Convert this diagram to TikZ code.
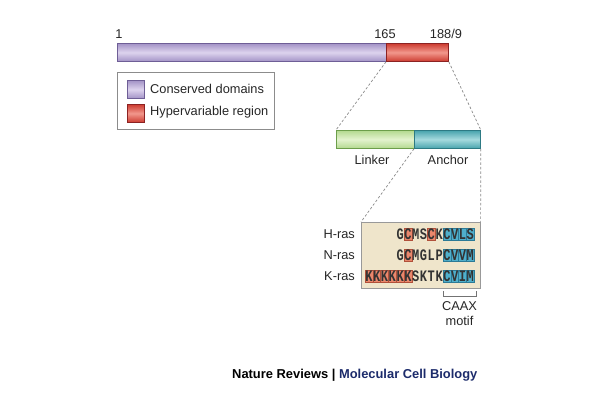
\documentclass[tikz,border=0pt]{standalone}
\usepackage{fontspec}
\setmainfont{Liberation Sans}
\newfontfamily\seqfont{Liberation Mono}
\usepackage{graphicx}
\definecolor{purpA}{HTML}{A393C6}
\definecolor{purpM}{HTML}{DDD3EE}
\definecolor{purpD}{HTML}{6E5E96}
\definecolor{redA}{HTML}{CC3B30}
\definecolor{redM}{HTML}{F2978C}
\definecolor{redD}{HTML}{8C2222}
\definecolor{grnA}{HTML}{B3D98F}
\definecolor{grnM}{HTML}{E3F3CE}
\definecolor{grnD}{HTML}{6C9E4A}
\definecolor{tealA}{HTML}{48A3AD}
\definecolor{tealM}{HTML}{A6DADE}
\definecolor{tealD}{HTML}{2D7A84}
\definecolor{beige}{HTML}{EFE5CB}
\definecolor{cellR}{HTML}{E9876C}
\definecolor{cellRD}{HTML}{B0503A}
\definecolor{cellB}{HTML}{4FAFCB}
\definecolor{cellBD}{HTML}{2C7A96}
\definecolor{capblue}{HTML}{1C2B6B}
\definecolor{dashgray}{HTML}{8A8A8A}
\tikzset{
  barbox/.style={draw, line width=0.8pt, inner sep=0pt, minimum height=18pt, anchor=north west},
  swatch/.style={draw, line width=0.8pt, inner sep=0pt, minimum width=17pt, minimum height=18pt, anchor=north west},
  lbl/.style={font=\fontsize{12.8}{14}\selectfont, inner sep=0pt, text=black!85},
  zoomline/.style={draw=dashgray, dash pattern=on 2.5pt off 2pt, line width=0.7pt},
  cellbase/.style={inner sep=0pt, minimum width=7.8pt, minimum height=12pt,
     font=\seqfont\bfseries\fontsize{16}{16}\selectfont, text=black!80},
  celln/.style={cellbase},
  cellr/.style={cellbase, fill=cellR, draw=cellRD, line width=0.5pt},
  cellb/.style={cellbase, fill=cellB, draw=cellBD, line width=0.5pt},
}
\newcommand{\sq}[1]{\scalebox{0.75}[1]{#1}}
\begin{document}
\begin{tikzpicture}[x=1pt,y=-1pt]
\useasboundingbox (0,0) rectangle (600,407);
% main bar
\node[barbox, draw=purpD, top color=purpA, bottom color=purpA, middle color=purpM, minimum width=269pt] (cons) at (117,43) {};
\node[barbox, draw=redD, top color=redA, bottom color=redA, middle color=redM, minimum width=62pt] (hyper) at (386,43) {};
\node[lbl] (n1) at (119,34) {1};
\node[lbl] (n165) at (385,34) {165};
\node[lbl] (n188) at (446,34) {188/9};
% legend
\node[draw=black!45, line width=0.6pt, minimum width=157pt, minimum height=57pt, anchor=north west, inner sep=0pt] (legend) at (117,72) {};
\node[swatch, draw=purpD, top color=purpA, bottom color=purpA, middle color=purpM] (swc) at (127,80) {};
\node[swatch, draw=redD, top color=redA, bottom color=redA, middle color=redM] (swh) at (127,104) {};
\node[lbl, anchor=west] (tc) at (150,88.5) {Conserved domains};
\node[lbl, anchor=west] (th) at (150,112.5) {Hypervariable region};
% linker / anchor
\node[barbox, draw=grnD, top color=grnA, bottom color=grnA, middle color=grnM, minimum width=78pt] (linker) at (336,130) {};
\node[barbox, draw=tealD, top color=tealA, bottom color=tealA, middle color=tealM, minimum width=66pt] (anchor) at (414,130) {};
\node[lbl] (tl) at (372,160) {Linker};
\node[lbl] (ta) at (448,160) {Anchor};
% zoom lines
\path[zoomline] (hyper.south west) -- (linker.north west);
\path[zoomline] (hyper.south east) -- (anchor.north east);
% sequence box
\node[draw=black!40, fill=beige, line width=0.6pt, minimum width=119pt, minimum height=66pt, anchor=north west, inner sep=0pt] (seqbox) at (361,222) {};
\path[zoomline] (anchor.south west) -- (seqbox.north west);
\path[zoomline] (anchor.south east) -- (seqbox.north east);
% row labels
\node[lbl, anchor=east] (lh) at (355,234) {H-ras};
\node[lbl, anchor=east] (ln) at (355,255) {N-ras};
\node[lbl, anchor=east] (lk) at (355,276) {K-ras};
% sequences
\foreach \i/\c/\t in {0/G/n,1/C/r,2/M/n,3/S/n,4/C/r,5/K/n,6/C/b,7/V/b,8/L/b,9/S/b}
  \node[cell\t] (h\i) at ({400.1+7.8*\i},234) {\sq{\c}};
\foreach \i/\c/\t in {0/G/n,1/C/r,2/M/n,3/G/n,4/L/n,5/P/n,6/C/b,7/V/b,8/V/b,9/M/b}
  \node[cell\t] (n\i) at ({400.1+7.8*\i},255) {\sq{\c}};
\foreach \i/\c/\t in {0/K/r,1/K/r,2/K/r,3/K/r,4/K/r,5/K/r,6/S/n,7/K/n,8/T/n,9/K/n,10/C/b,11/V/b,12/I/b,13/M/b}
  \node[cell\t] (k\i) at ({368.9+7.8*\i},276) {\sq{\c}};
% CAAX bracket
\coordinate (bl) at (443.5,291);
\coordinate (br) at (476,291);
\draw[black!55, line width=0.6pt] (bl) -- ++(0,5) -| (br);
\node[lbl] (caax) at (459.5,306) {CAAX};
\node[lbl] (motif) at (459.5,321) {motif};
% caption
\node[inner sep=0pt, anchor=west, font=\bfseries\fontsize{12.9}{14}\selectfont] (cap) at (232,375) {Nature Reviews | \textcolor{capblue}{Molecular Cell Biology}};
\end{tikzpicture}
\end{document}
